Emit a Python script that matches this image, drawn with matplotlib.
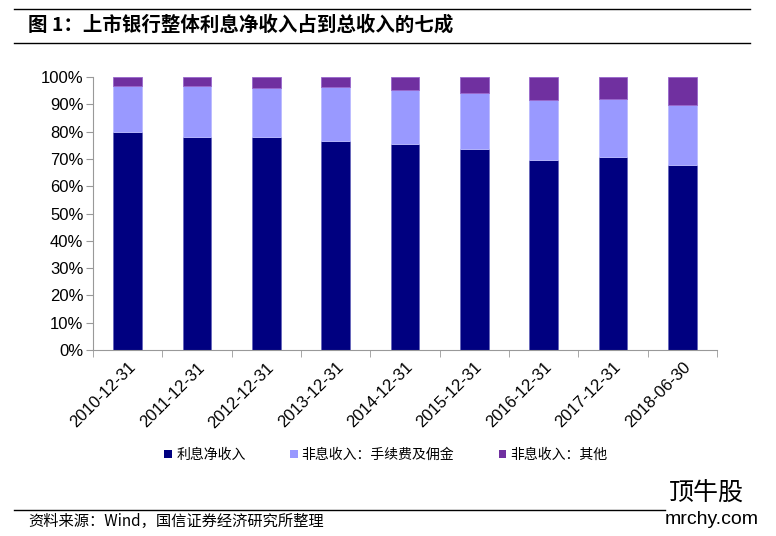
import matplotlib.pyplot as plt
import numpy as np
from matplotlib.patches import Patch
from matplotlib.lines import Line2D
from matplotlib.ticker import FuncFormatter

plt.rcParams['font.family'] = ['Liberation Sans', 'Noto Sans CJK SC', 'DejaVu Sans']

# data (percent of total income)
dates = ['2010-12-31', '2011-12-31', '2012-12-31', '2013-12-31', '2014-12-31',
         '2015-12-31', '2016-12-31', '2017-12-31', '2018-06-30']
net_interest = [79.9, 78.1, 78.2, 76.7, 75.5, 73.6, 69.5, 70.7, 67.8]
fee_commission = [16.8, 18.6, 17.9, 19.6, 19.7, 20.5, 21.9, 21.4, 21.8]
series_names = ['利息净收入', '非息收入：手续费及佣金', '非息收入：其他']
colors = ['#000080', '#9999FF', '#7030A0']

other = [100 - a - b for a, b in zip(net_interest, fee_commission)]

fig = plt.figure(figsize=(7.76, 5.36), dpi=100)
ax = fig.add_axes([93 / 776, 1 - 350 / 536, (717 - 93) / 776, (350 - 77) / 536])

x = np.arange(len(dates))
w = 0.41
ax.bar(x, net_interest, w, color=colors[0], edgecolor='#6666bb', linewidth=0.6)
ax.bar(x, fee_commission, w, bottom=net_interest, color=colors[1], edgecolor='#bbbbff', linewidth=0.6)
bottom2 = [a + b for a, b in zip(net_interest, fee_commission)]
ax.bar(x, other, w, bottom=bottom2, color=colors[2], edgecolor='#9966cc', linewidth=0.6)

ax.set_xlim(-0.5, len(dates) - 0.5)
ax.set_ylim(0, 100)
ax.set_yticks(np.arange(0, 101, 10))
ax.yaxis.set_major_formatter(FuncFormatter(lambda v, p: f'{int(v)}%'))
ax.set_xticks(x)
ax.set_xticklabels(dates, rotation=45, ha='right', rotation_mode='anchor', fontsize=12)
ax.set_xticks(np.arange(-0.5, len(dates), 1), minor=True)
ax.tick_params(axis='x', which='major', length=0, pad=7)
ax.tick_params(axis='x', which='minor', length=5, color='#999999', direction='out')
ax.tick_params(axis='y', length=5, color='#999999', direction='out', labelsize=12, pad=2)
for s in ['top', 'right']:
    ax.spines[s].set_visible(False)
for s in ['left', 'bottom']:
    ax.spines[s].set_color('#999999')

# legend
handles = [Patch(facecolor=c, edgecolor='none') for c in colors]
fig.legend(handles, series_names, loc='center', bbox_to_anchor=(386 / 776, 1 - 455 / 536),
           ncol=3, frameon=False, handlelength=0.55, handleheight=0.55,
           handletextpad=0.3, columnspacing=3.2, prop={'family': ['Noto Sans CJK SC'], 'size': 10})

# title and rules
fig.add_artist(Line2D([14 / 776, 750 / 776], [1 - 9 / 536, 1 - 9 / 536], color='black', lw=1))
fig.add_artist(Line2D([14 / 776, 750 / 776], [1 - 43 / 536, 1 - 43 / 536], color='black', lw=1))
fig.text(28 / 776, 1 - 25 / 536, '图 1：上市银行整体利息净收入占到总收入的七成', fontsize=14,
         fontweight='bold', va='center', family=['Noto Sans CJK SC'])

# footer
fig.add_artist(Line2D([14 / 776, 665 / 776], [1 - 510 / 536, 1 - 510 / 536], color='black', lw=1))
fig.text(28 / 776, 1 - 521 / 536, '资料来源：Wind，国信证券经济研究所整理', fontsize=11,
         va='center', family=['Noto Sans CJK SC'])
fig.text(706 / 776, 1 - 494 / 536, '顶牛股', fontsize=18, ha='center', va='center',
         family=['Noto Sans CJK SC'])
fig.text(712 / 776, 1 - 520 / 536, 'mrchy.com', fontsize=14, ha='center', va='center')

fig.savefig('out.png', dpi=100)
